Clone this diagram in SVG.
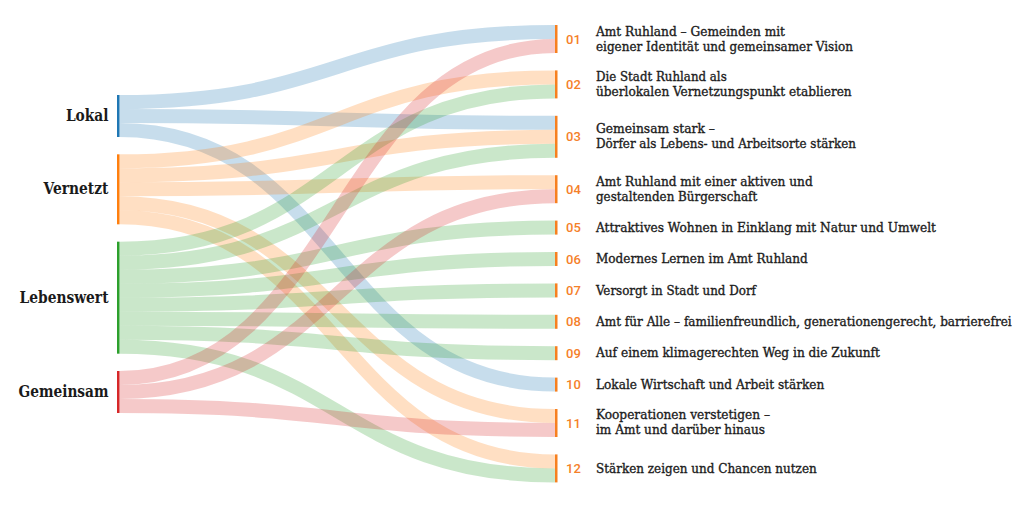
<svg xmlns="http://www.w3.org/2000/svg" width="1030" height="507" viewBox="0 0 1030 507">
<style>
.lk{fill:none;stroke-width:14;stroke-opacity:0.25}
.b{stroke:#1f77b4}.o{stroke:#ff7f0e}.g{stroke:#2ca02c}.r{stroke:#d62728}
.src{font-family:"DejaVu Serif","Liberation Serif",serif;font-weight:bold;font-size:16.5px;fill:#1a1a1a;text-anchor:end}
.num{font-family:Roboto,"Liberation Sans",sans-serif;font-size:13px;font-weight:500;fill:#f5802a}
.lbl{font-family:"DejaVu Serif","Liberation Serif",serif;font-size:13.5px;fill:#1c1c1c;stroke:#1c1c1c;stroke-width:0.35;font-stretch:condensed}
.tb{fill:#f7801f}
</style>
<rect width="1030" height="507" fill="#ffffff"/>
<g id="connectors">
<path class="lk b" d="M119.5,102C337.25,102 337.25,32 555,32"/>
<path class="lk b" d="M119.5,116C337.25,116 337.25,122.8 555,122.8"/>
<path class="lk b" d="M119.5,130C337.25,130 337.25,384.6 555,384.6"/>
<path class="lk o" d="M119.5,161.33C337.25,161.33 337.25,77.4 555,77.4"/>
<path class="lk o" d="M119.5,175.33C337.25,175.33 337.25,136.8 555,136.8"/>
<path class="lk o" d="M119.5,189.33C337.25,189.33 337.25,182.2 555,182.2"/>
<path class="lk o" d="M119.5,203.33C337.25,203.33 337.25,416 555,416"/>
<path class="lk o" d="M119.5,217.33C337.25,217.33 337.25,461.4 555,461.4"/>
<path class="lk g" d="M119.5,248.67C337.25,248.67 337.25,91.4 555,91.4"/>
<path class="lk g" d="M119.5,262.67C337.25,262.67 337.25,150.8 555,150.8"/>
<path class="lk g" d="M119.5,276.67C337.25,276.67 337.25,227.6 555,227.6"/>
<path class="lk g" d="M119.5,290.67C337.25,290.67 337.25,259 555,259"/>
<path class="lk g" d="M119.5,304.67C337.25,304.67 337.25,290.4 555,290.4"/>
<path class="lk g" d="M119.5,318.67C337.25,318.67 337.25,321.8 555,321.8"/>
<path class="lk g" d="M119.5,332.67C337.25,332.67 337.25,353.2 555,353.2"/>
<path class="lk g" d="M119.5,346.67C337.25,346.67 337.25,475.4 555,475.4"/>
<path class="lk r" d="M119.5,378C337.25,378 337.25,46 555,46"/>
<path class="lk r" d="M119.5,392C337.25,392 337.25,196.2 555,196.2"/>
<path class="lk r" d="M119.5,406C337.25,406 337.25,430 555,430"/>
</g>
<g id="node-lokal"><rect x="117" y="95" width="2.5" height="42" fill="#1f77b4"/><text class="src" x="108.5" y="121" textLength="42.6" lengthAdjust="spacingAndGlyphs">Lokal</text></g>
<g id="node-vernetzt"><rect x="117" y="154.33" width="2.5" height="70" fill="#ff7f0e"/><text class="src" x="108.5" y="194" textLength="65" lengthAdjust="spacingAndGlyphs">Vernetzt</text></g>
<g id="node-lebenswert"><rect x="117" y="241.67" width="2.5" height="112" fill="#2ca02c"/><text class="src" x="108.5" y="302.5" textLength="89" lengthAdjust="spacingAndGlyphs">Lebenswert</text></g>
<g id="node-gemeinsam"><rect x="117" y="371" width="2.5" height="42" fill="#d62728"/><text class="src" x="108.5" y="396.8" textLength="90" lengthAdjust="spacingAndGlyphs">Gemeinsam</text></g>

<g id="node-01"><rect class="tb" x="555" y="25" width="2.5" height="28"/><text class="num" x="566" y="43.6">01</text>
<text class="lbl" x="596" y="35.5" textLength="189" lengthAdjust="spacingAndGlyphs">Amt Ruhland – Gemeinden mit</text>
<text class="lbl" x="596" y="50.5" textLength="257" lengthAdjust="spacingAndGlyphs">eigener Identität und gemeinsamer Vision</text></g>
<g id="node-02"><rect class="tb" x="555" y="70.4" width="2.5" height="28"/><text class="num" x="566" y="89">02</text>
<text class="lbl" x="596" y="80.7" textLength="130.7" lengthAdjust="spacingAndGlyphs">Die Stadt Ruhland als</text>
<text class="lbl" x="596" y="95.7" textLength="255.7" lengthAdjust="spacingAndGlyphs">überlokalen Vernetzungspunkt etablieren</text></g>
<g id="node-03"><rect class="tb" x="555" y="115.8" width="2.5" height="42"/><text class="num" x="566" y="141.4">03</text>
<text class="lbl" x="596" y="133.2" textLength="119" lengthAdjust="spacingAndGlyphs">Gemeinsam stark –</text>
<text class="lbl" x="596" y="148.2" textLength="260" lengthAdjust="spacingAndGlyphs">Dörfer als Lebens- und Arbeitsorte stärken</text></g>
<g id="node-04"><rect class="tb" x="555" y="175.2" width="2.5" height="28"/><text class="num" x="566" y="193.8">04</text>
<text class="lbl" x="596" y="185.6" textLength="216.7" lengthAdjust="spacingAndGlyphs">Amt Ruhland mit einer aktiven und</text>
<text class="lbl" x="596" y="200.6" textLength="161.3" lengthAdjust="spacingAndGlyphs">gestaltenden Bürgerschaft</text></g>
<g id="node-05"><rect class="tb" x="555" y="220.6" width="2.5" height="14"/><text class="num" x="566" y="232.2">05</text>
<text class="lbl" x="596" y="231.8" textLength="340" lengthAdjust="spacingAndGlyphs">Attraktives Wohnen in Einklang mit Natur und Umwelt</text></g>
<g id="node-06"><rect class="tb" x="555" y="252" width="2.5" height="14"/><text class="num" x="566" y="263.6">06</text>
<text class="lbl" x="596" y="263.2" textLength="211.7" lengthAdjust="spacingAndGlyphs">Modernes Lernen im Amt Ruhland</text></g>
<g id="node-07"><rect class="tb" x="555" y="283.4" width="2.5" height="14"/><text class="num" x="566" y="295">07</text>
<text class="lbl" x="596" y="294.6" textLength="160" lengthAdjust="spacingAndGlyphs">Versorgt in Stadt und Dorf</text></g>
<g id="node-08"><rect class="tb" x="555" y="314.8" width="2.5" height="14"/><text class="num" x="566" y="326.4">08</text>
<text class="lbl" x="596" y="326" textLength="415.7" lengthAdjust="spacingAndGlyphs">Amt für Alle – familienfreundlich, generationengerecht, barrierefrei</text></g>
<g id="node-09"><rect class="tb" x="555" y="346.2" width="2.5" height="14"/><text class="num" x="566" y="357.8">09</text>
<text class="lbl" x="596" y="357.4" textLength="284" lengthAdjust="spacingAndGlyphs">Auf einem klimagerechten Weg in die Zukunft</text></g>
<g id="node-10"><rect class="tb" x="555" y="377.6" width="2.5" height="14"/><text class="num" x="566" y="389.2">10</text>
<text class="lbl" x="596" y="388.8" textLength="228.3" lengthAdjust="spacingAndGlyphs">Lokale Wirtschaft und Arbeit stärken</text></g>
<g id="node-11"><rect class="tb" x="555" y="409" width="2.5" height="28"/><text class="num" x="566" y="427.6">11</text>
<text class="lbl" x="596" y="419.3" textLength="174" lengthAdjust="spacingAndGlyphs">Kooperationen verstetigen –</text>
<text class="lbl" x="596" y="434.3" textLength="169" lengthAdjust="spacingAndGlyphs">im Amt und darüber hinaus</text></g>
<g id="node-12"><rect class="tb" x="555" y="454.4" width="2.5" height="28"/><text class="num" x="566" y="473">12</text>
<text class="lbl" x="596" y="472.6" textLength="220.7" lengthAdjust="spacingAndGlyphs">Stärken zeigen und Chancen nutzen</text></g>
</svg>
